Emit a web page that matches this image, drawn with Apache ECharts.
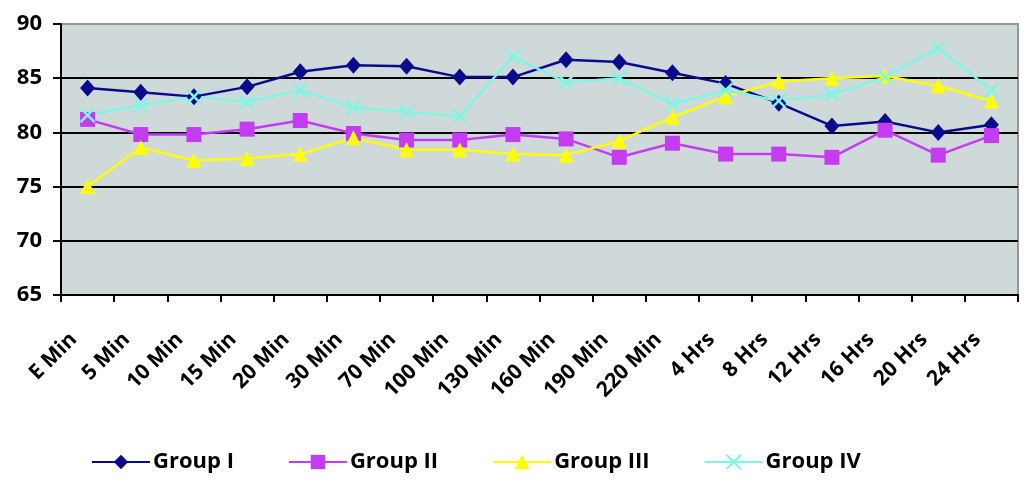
<!DOCTYPE html>
<html>
<head>
<meta charset="utf-8">
<script src="https://cdn.jsdelivr.net/npm/echarts@6/dist/echarts.min.js"></script>
<style>html,body{margin:0;padding:0;background:#fff}#c{width:1031px;height:489px}</style>
</head>
<body>
<div id="c"></div>
<script>
var categories = ['E Min','5 Min','10 Min','15 Min','20 Min','30 Min','70 Min','100 Min','130 Min','160 Min','190 Min','220 Min','4 Hrs','8 Hrs','12 Hrs','16 Hrs','20 Hrs','24 Hrs'];
var groupI   = [84.1,83.7,83.3,84.2,85.6,86.2,86.1,85.1,85.1,86.7,86.5,85.5,84.5,82.7,80.6,81.0,80.0,80.7];
var groupII  = [81.2,79.8,79.8,80.3,81.1,79.9,79.3,79.3,79.8,79.4,77.7,79.0,78.0,78.0,77.7,80.2,77.9,79.7];
var groupIII = [75.0,78.6,77.4,77.6,78.0,79.5,78.4,78.4,78.0,77.9,79.2,81.4,83.3,84.7,85.0,85.2,84.3,82.9];
var groupIV  = [81.6,82.5,83.3,82.8,83.9,82.3,81.9,81.5,87.0,84.6,85.0,82.6,83.9,82.9,83.5,85.1,87.8,83.9];
var yTicks = [65,70,75,80,85,90];

var FONT = '"Open Sans", "DejaVu Sans", sans-serif';
var chart = echarts.init(document.getElementById('c'));
var crossPath = 'path://M0,0 L10,10 M10,0 L0,10';
function mk(name, data, color, symbol, size, extra) {
  var s = {
    name: name, type: 'line', data: data, symbol: symbol, symbolSize: size,
    showAllSymbol: true,
    lineStyle: { color: color, width: 2.5 },
    itemStyle: { color: color },
    emphasis: { disabled: true }
  };
  if (extra) s.itemStyle = extra;
  return s;
}
chart.setOption({
  animation: false,
  backgroundColor: '#ffffff',
  grid: { left: 61, right: 13, top: 24, bottom: 194, show: true, backgroundColor: '#D0D9D9', borderColor: '#8F9B9B', borderWidth: 2 },
  legend: {
    top: 446, left: 86, itemWidth: 58, itemHeight: 18, itemGap: 54,
    textStyle: { fontFamily: FONT, fontWeight: 'bold', fontSize: 22, color: '#000', padding: [0,0,0,-2] },
    data: ['Group I','Group II','Group III','Group IV']
  },
  xAxis: {
    type: 'category', data: categories, boundaryGap: true,
    axisLine: { lineStyle: { color: '#000', width: 2 } },
    axisTick: { show: true, interval: 0, length: 7, lineStyle: { color: '#000', width: 2 } },
    axisLabel: { interval: 0, rotate: 45, margin: 27, fontFamily: FONT, fontWeight: 'bold', fontSize: 21, color: '#000', padding: [0, 20, 0, 0] }
  },
  yAxis: {
    type: 'value', min: yTicks[0], max: yTicks[yTicks.length-1], interval: 5,
    axisLine: { show: true, lineStyle: { color: '#000', width: 2 } },
    axisTick: { show: true, length: 8, lineStyle: { color: '#000', width: 2 } },
    axisLabel: { fontFamily: FONT, fontWeight: 'bold', fontSize: 22, color: '#000', margin: 19 },
    splitLine: { show: true, lineStyle: { color: ['#000','#000','#000','#000','#000','#8F9B9B'], width: 2 } }
  },
  series: [
    mk('Group I', groupI, '#0A0A8F', 'diamond', [15,17]),
    mk('Group II', groupII, '#C43CF2', 'rect', 15),
    mk('Group III', groupIII, '#FFFF00', 'triangle', 15),
    mk('Group IV', groupIV, '#7FF5E3', crossPath, 14, { color: 'rgba(0,0,0,0)', borderColor: '#7FF5E3', borderWidth: 2.5 })
  ]
});
</script>
</body>
</html>
